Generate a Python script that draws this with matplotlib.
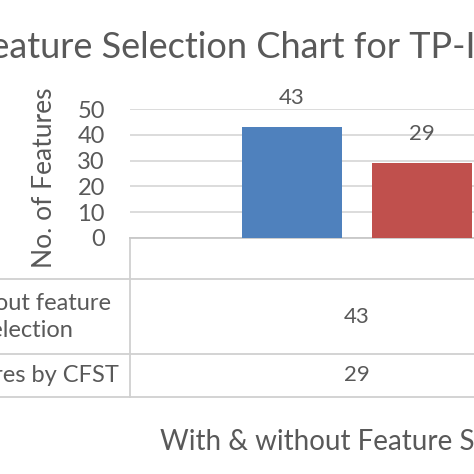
import matplotlib.pyplot as plt
from matplotlib.lines import Line2D

# data
series_names = ['Without feature\nselection', 'Features by CFST']
series_values = [43, 29]
bar_colors = ['#4f81bd', '#c0504d']
y_ticks = [0, 10, 20, 30, 40, 50]
title = 'Feature Selection Chart for TP-IDS'
x_title = 'With & without Feature Selection'
y_title = 'No. of Features'

txt = '#595959'
grid = '#d9d9d9'
plt.rcParams['font.family'] = ['Lato', 'DejaVu Sans']

W = H = 474
fig = plt.figure(figsize=(4.74, 4.74), dpi=100)


def px(x0, y0, x1, y1):
    # pixel box (top-left origin) -> figure fraction rect
    return [x0 / W, 1 - y1 / H, (x1 - x0) / W, (y1 - y0) / H]


# overlay for the table and titles, pixel coordinates
ov = fig.add_axes([0, 0, 1, 1])
ov.set_xlim(0, W)
ov.set_ylim(H, 0)
ov.axis('off')

ax = fig.add_axes(px(130, 109, 584, 238))
ax.set_xlim(-0.5, 0.5)
ax.set_ylim(0, 50)
offs = [-0.143, 0.143]
for i, v in enumerate(series_values):
    ax.bar(offs[i], v, width=0.222, color=bar_colors[i], zorder=3, clip_on=False)
    ax.annotate(str(v), (offs[i], v), xytext=(0, 21), textcoords='offset points',
                ha='center', va='center', fontsize=16, color=txt, annotation_clip=False)
ax.set_yticks(y_ticks)
ax.tick_params(axis='y', length=0, pad=18, labelsize=17, labelcolor=txt)
ax.tick_params(axis='x', length=0, labelbottom=False)
ax.grid(axis='y', color=grid, lw=1.3, zorder=0)
for s in ['top', 'right', 'left']:
    ax.spines[s].set_visible(False)
ax.spines['bottom'].set_color('#c8c8c8')
ax.spines['bottom'].set_linewidth(1.3)
ax.set_facecolor('none')

# data table lines
lc = '#d0d0d0'
ov.add_line(Line2D([130, 130], [238, 397], color=lc, lw=1.3))
for y in [279, 354, 397]:
    ov.add_line(Line2D([0, W], [y, y], color=lc, lw=1.3))

row_y = [317, 375]
for i, name in enumerate(series_names):
    ov.text(27, row_y[i], name, ha='center', va='center', fontsize=17,
            color=txt, linespacing=1.3)
    ov.text(357, row_y[i], str(series_values[i]), ha='center', va='center',
            fontsize=16, color=txt)

ov.text(-30, 47, title, ha='left', va='center', fontsize=26, color=txt)
ov.text(160, 442, x_title, ha='left', va='center', fontsize=20, color=txt)
ov.text(45, 178, y_title, ha='center', va='center', rotation=90, fontsize=19, color=txt)

fig.savefig('out.png', dpi=100)
